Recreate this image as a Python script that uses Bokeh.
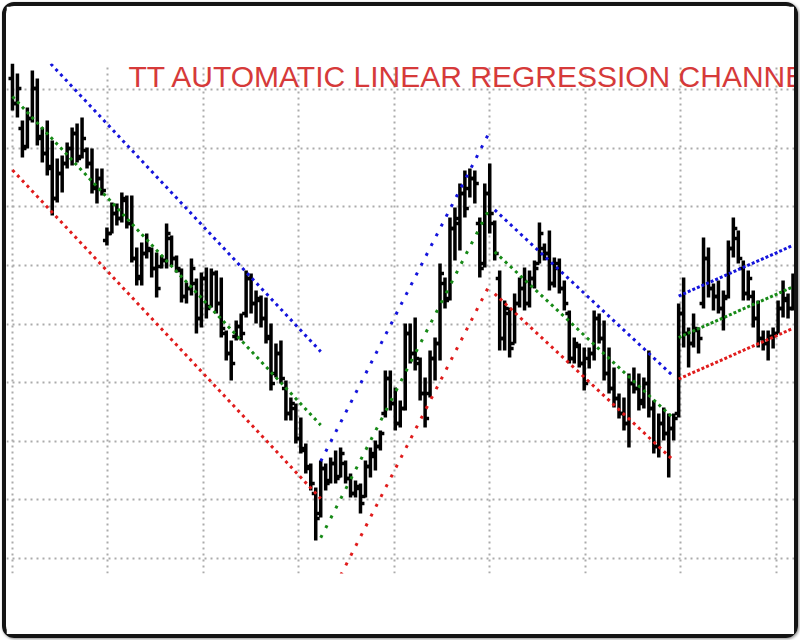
import numpy as np
from bokeh.plotting import figure
from bokeh.models import ColumnDataSource, Grid, SingleIntervalTicker, Label
from bokeh.embed import file_html
from bokeh.resources import INLINE

# ---- OHLC bars (price points, bar index = position) ----
highs = [495, 485, 438, 451, 488, 480, 431, 438, 418, 400,
         403, 416, 431, 435, 441, 411, 410, 390, 390, 331,
         356, 355, 366, 363, 363, 311, 316, 325, 311, 306,
         303, 335, 323, 303, 290, 276, 300, 280, 286, 291,
         290, 288, 281, 228, 218, 238, 245, 288, 285, 268,
         263, 261, 235, 215, 218, 178, 161, 155, 141, 115,
         95, 71, 98, 95, 101, 108, 111, 98, 85, 78,
         75, 98, 111, 118, 128, 188, 188, 171, 158, 235,
         235, 241, 201, 181, 208, 221, 295, 281, 341, 351,
         375, 388, 390, 388, 341, 375, 395, 338, 288, 258,
         251, 265, 281, 291, 288, 298, 336, 315, 328, 301,
         300, 278, 248, 221, 215, 211, 211, 248, 245, 238,
         211, 191, 165, 161, 185, 191, 185, 181, 208, 158,
         145, 151, 145, 145, 255, 281, 231, 245, 231, 321,
         311, 275, 278, 268, 318, 341, 328, 298, 288, 268,
         258, 228, 228, 231, 258, 278, 265, 285]
lows = [448, 441, 401, 410, 436, 413, 396, 383, 343, 356,
        366, 390, 393, 396, 400, 390, 365, 355, 363, 313,
        325, 333, 336, 330, 296, 273, 273, 300, 281, 261,
        290, 290, 293, 286, 256, 255, 263, 225, 231, 240,
        251, 245, 221, 198, 178, 218, 218, 241, 245, 235,
        231, 215, 168, 181, 175, 138, 138, 115, 105, 85,
        68, 18, 41, 68, 75, 75, 81, 75, 61, 61,
        45, 61, 81, 88, 108, 141, 148, 128, 131, 148,
        195, 188, 158, 131, 161, 178, 198, 250, 258, 298,
        308, 341, 361, 355, 281, 291, 325, 298, 208, 208,
        201, 215, 251, 248, 251, 270, 295, 298, 268, 271,
        265, 248, 195, 195, 191, 168, 190, 198, 215, 178,
        165, 151, 140, 128, 111, 165, 148, 150, 141, 105,
        101, 118, 81, 118, 141, 211, 191, 211, 205, 250,
        261, 248, 245, 228, 260, 301, 295, 258, 258, 231,
        211, 208, 198, 210, 225, 241, 240, 248]
opens = [480, 455, 430, 412, 440, 470, 422, 405, 392, 360,
         385, 395, 410, 425, 402, 408, 395, 372, 380, 318,
         325, 345, 340, 358, 335, 300, 282, 305, 308, 290,
         292, 298, 320, 300, 288, 262, 270, 275, 240, 280,
         252, 285, 255, 225, 205, 222, 232, 245, 280, 255,
         258, 240, 222, 185, 205, 170, 145, 150, 120, 108,
         90, 65, 45, 90, 78, 95, 82, 95, 80, 65,
         70, 62, 92, 102, 112, 145, 180, 155, 135, 150,
         225, 205, 195, 165, 165, 200, 215, 275, 260, 330,
         335, 365, 370, 380, 335, 295, 365, 335, 280, 220,
         245, 215, 255, 270, 255, 280, 295, 310, 305, 275,
         290, 270, 245, 200, 212, 195, 200, 205, 240, 220,
         185, 170, 160, 145, 135, 175, 170, 158, 175, 150,
         112, 135, 125, 130, 145, 245, 225, 215, 228, 255,
         300, 270, 262, 250, 262, 310, 320, 290, 265, 262,
         240, 220, 215, 222, 225, 250, 258, 250]
closes = [455, 470, 410, 440, 470, 420, 405, 390, 360, 385,
          395, 410, 425, 400, 420, 395, 370, 380, 368, 325,
          345, 340, 360, 335, 300, 280, 305, 310, 290, 270,
          298, 325, 300, 290, 262, 270, 290, 240, 280, 250,
          285, 255, 230, 205, 195, 232, 225, 280, 255, 260,
          240, 220, 175, 205, 180, 145, 155, 120, 110, 92,
          75, 40, 90, 75, 95, 80, 105, 80, 65, 72,
          55, 92, 105, 112, 125, 180, 155, 135, 150, 225,
          205, 200, 165, 140, 200, 215, 285, 258, 330, 340,
          365, 350, 380, 375, 290, 365, 345, 305, 220, 250,
          210, 255, 270, 255, 280, 290, 325, 305, 275, 295,
          270, 255, 200, 215, 195, 175, 205, 240, 220, 185,
          170, 160, 145, 135, 175, 170, 155, 175, 150, 112,
          135, 125, 130, 140, 245, 225, 215, 230, 220, 300,
          270, 262, 250, 260, 310, 330, 300, 265, 280, 240,
          220, 215, 222, 225, 250, 260, 250, 275]

# ---- regression channels (bar index range, mid-line value at both ends, half width) ----
chan_start = [0, 62, 97, 134]
chan_end = [62, 96, 133, 157]
chan_mid_start = [462.0, 20.7, 306.6, 221.0]
chan_mid_end = [133.4, 350.5, 140.0, 271.6]
chan_half = [73.5, 76.5, 42.0, 41.5]

title_text = "TT AUTOMATIC LINEAR REGRESSION CHANNEL"
grid_x_step = 19.2
grid_y_step = 58.6

# ---- layout ----
# The host gets a CSS border; Bokeh sizes its canvas to the border box, so the
# canvas is 2*BORDER larger than the visible content box (extra part is hidden).
W, H = 788, 628
BORDER = 4
MB_TOP = 57
MB_BOT = 61 + 2 * BORDER
MB_RIGHT = 2 * BORDER
XR = (-1.2, 157.3)
YR = (-15, 495)

p = figure(width=W, height=H, x_range=XR, y_range=YR,
           x_axis_type=None, y_axis_type=None,
           toolbar_location=None, output_backend="svg",
           min_border_left=0, min_border_right=MB_RIGHT,
           min_border_top=MB_TOP, min_border_bottom=MB_BOT,
           outline_line_color=None,
           background_fill_color="white", border_fill_color="white")
p.styles = {"box-sizing": "content-box", "border": f"{BORDER}px solid #141414",
            "border-radius": "12px", "margin": "2px 0 0 2px",
            "box-shadow": "1px 1px 3px rgba(0,0,0,0.45)"}

for dim, step in ((0, grid_x_step), (1, grid_y_step)):
    p.add_layout(Grid(dimension=dim,
                      ticker=SingleIntervalTicker(interval=step, num_minor_ticks=0),
                      grid_line_color="#ababab", grid_line_width=2,
                      grid_line_dash="2 4"))

idx = np.arange(len(highs))
src = ColumnDataSource(dict(x=idx, xl=idx - 0.8, xr=idx + 0.8,
                            high=highs, low=lows, open=opens, close=closes))
bar_kw = dict(source=src, line_color="black", line_width=3.5)
p.segment(x0="x", y0="low", x1="x", y1="high", **bar_kw)
p.segment(x0="xl", y0="open", x1="x", y1="open", **bar_kw)
p.segment(x0="x", y0="close", x1="xr", y1="close", **bar_kw)

frame_w = W  # (W + 2*BORDER) canvas minus MB_RIGHT
frame_h = H + 2 * BORDER - MB_TOP - MB_BOT
px_per_bar = frame_w / (XR[1] - XR[0])
px_per_unit = frame_h / (YR[1] - YR[0])
colors = {"upper": "#1414dc", "mid": "#178a17", "lower": "#e01c1c"}
for s, e, m0, m1, h in zip(chan_start, chan_end, chan_mid_start, chan_mid_end, chan_half):
    slope = (m1 - m0) / (e - s)
    step_px = float(np.hypot(px_per_bar, slope * px_per_unit))
    gap = max(1, int(round(step_px - 3)))
    dash = f"3 {gap}"
    for off, key in ((h, "upper"), (0.0, "mid"), (-h, "lower")):
        p.line(x=[s, e], y=[m0 + off, m1 + off], line_color=colors[key],
               line_width=3, line_dash=dash)

p.add_layout(Label(x=122, y=497, x_units="screen", y_units="screen",
                   text=title_text, text_font="Liberation Sans",
                   text_font_size="30px", text_color="#d63a3a",
                   text_baseline="alphabetic"))

open("out.html", "w").write(file_html(p, INLINE))
